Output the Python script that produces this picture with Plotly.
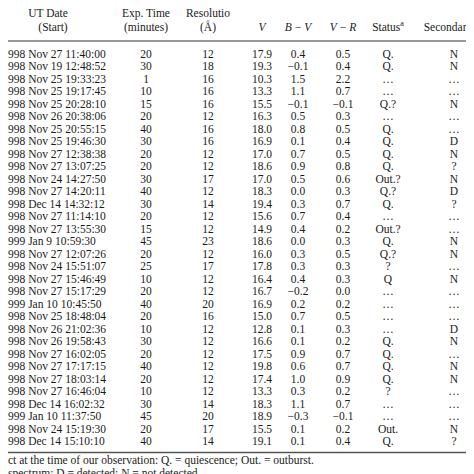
import plotly.graph_objects as go

dates = ["998 Nov 27 11:40:00", "998 Nov 19 12:48:52", "998 Nov 25 19:33:23", "998 Nov 25 19:17:45",
         "998 Nov 25 20:28:10", "998 Nov 26 20:38:06", "998 Nov 25 20:55:15", "998 Nov 25 19:46:30",
         "998 Nov 27 12:38:38", "998 Nov 27 13:07:25", "998 Nov 24 14:27:50", "998 Nov 27 14:20:11",
         "998 Dec 14 14:32:12", "998 Nov 27 11:14:10", "998 Nov 27 13:55:30", "999 Jan 9 10:59:30",
         "998 Nov 27 12:07:26", "998 Nov 24 15:51:07", "998 Nov 27 15:46:49", "998 Nov 27 15:17:29",
         "999 Jan 10 10:45:50", "998 Nov 25 18:48:04", "998 Nov 26 21:02:36", "998 Nov 26 19:58:43",
         "998 Nov 27 16:02:05", "998 Nov 27 17:17:15", "998 Nov 27 18:03:14", "998 Nov 27 16:46:04",
         "998 Dec 14 16:02:32", "999 Jan 10 11:37:50", "998 Nov 24 15:19:30", "998 Dec 14 15:10:10"]
exp_time = ["20", "30", "1", "10", "15", "20", "40", "30", "20", "20", "30", "40", "30", "20", "15", "45",
            "20", "25", "10", "20", "40", "20", "10", "30", "20", "40", "20", "10", "30", "45", "20", "40"]
resolution = ["12", "18", "16", "16", "16", "12", "16", "16", "12", "12", "17", "12", "14", "12", "12", "23",
              "12", "17", "12", "12", "20", "16", "12", "12", "12", "12", "12", "12", "14", "20", "17", "14"]
v_mag = ["17.9", "19.3", "10.3", "13.3", "15.5", "16.3", "18.0", "16.9", "17.0", "18.6", "17.0", "18.3",
         "19.4", "15.6", "14.9", "18.6", "16.0", "17.8", "16.4", "16.7", "16.9", "15.0", "12.8", "16.6",
         "17.5", "19.8", "17.4", "13.3", "18.3", "18.9", "15.5", "19.1"]
b_v = ["0.4", "−0.1", "1.5", "1.1", "−0.1", "0.5", "0.8", "0.1", "0.7", "0.9", "0.5", "0.0", "0.3", "0.7",
       "0.4", "0.0", "0.3", "0.3", "0.4", "−0.2", "0.2", "0.7", "0.1", "0.1", "0.9", "0.6", "1.0", "0.3",
       "1.1", "−0.3", "0.1", "0.1"]
v_r = ["0.5", "0.4", "2.2", "0.7", "−0.1", "0.3", "0.5", "0.4", "0.5", "0.8", "0.6", "0.3", "0.7", "0.4",
       "0.2", "0.3", "0.5", "0.3", "0.3", "0.0", "0.2", "0.5", "0.3", "0.2", "0.7", "0.7", "0.9", "0.2",
       "0.7", "−0.1", "0.2", "0.4"]
status = ["Q.", "Q.", "…", "…", "Q.?", "…", "Q.", "Q.", "Q.", "Q.", "Out.?", "Q.?", "Q.", "…", "Out.?", "Q.",
          "Q.?", "?", "Q", "…", "…", "…", "…", "Q.", "Q.", "Q.", "Q.", "?", "…", "…", "Out.", "Q."]
secondary = ["N", "N", "…", "…", "N", "…", "…", "D", "N", "?", "N", "D", "?", "…", "…", "N", "N", "…", "N",
             "…", "…", "…", "D", "N", "…", "N", "N", "…", "…", "…", "N", "?"]

headers1 = ["Exp. Time", "Resolutio", "", "", "", "", ""]
headers2 = ["(minutes)", "(Å)", "<i>V</i>", "<i>B</i> − <i>V</i>", "<i>V</i> − <i>R</i>",
            "Status<sup>a</sup>", "Secondary<sup>b</sup>"]
footnotes = ["ct at the time of our observation: Q. = quiescence; Out. = outburst.",
             "spectrum: D = detected; N = not detected."]

col_x = [138, 200, 254, 290, 335, 380, 446]
row0, step = 47, 12.5
rows = [row0 + i * step for i in range(len(dates))]
font = dict(family="Liberation Serif", size=11.5, color="#1a1a1a")

fig = go.Figure()
fig.add_trace(go.Scatter(x=[0] * len(dates), y=rows, text=dates, mode="text",
                         textposition="middle right", textfont=font, cliponaxis=False))
for cx, col in zip(col_x, [exp_time, resolution, v_mag, b_v, v_r, status, secondary]):
    fig.add_trace(go.Scatter(x=[cx] * len(col), y=rows, text=col, mode="text",
                             textposition="middle center", textfont=font, cliponaxis=False))

# header
fig.add_trace(go.Scatter(x=[40] + col_x, y=[6] * 8, text=["UT Date"] + headers1, mode="text",
                         textposition="middle center", textfont=font, cliponaxis=False))
fig.add_trace(go.Scatter(x=[45] + col_x[:-1] + [442], y=[20] * 8, text=["(Start)"] + headers2, mode="text",
                         textposition="middle center", textfont=font, cliponaxis=False))
fig.add_trace(go.Scatter(x=[0, 0], y=[453, 466], text=footnotes, mode="text",
                         textposition="middle right", textfont=font, cliponaxis=False))

fig.add_shape(type="line", x0=0, x1=474, y0=33, y1=33, line=dict(color="#333", width=1))
fig.add_shape(type="line", x0=0, x1=474, y0=444.5, y1=444.5, line=dict(color="#555", width=1.5))

fig.update_layout(width=474, height=474, margin=dict(l=0, r=0, t=0, b=0),
                  paper_bgcolor="white", plot_bgcolor="white", showlegend=False,
                  xaxis=dict(range=[0, 474], visible=False, fixedrange=True),
                  yaxis=dict(range=[474, 0], visible=False, fixedrange=True))
fig.write_html("out.html")
